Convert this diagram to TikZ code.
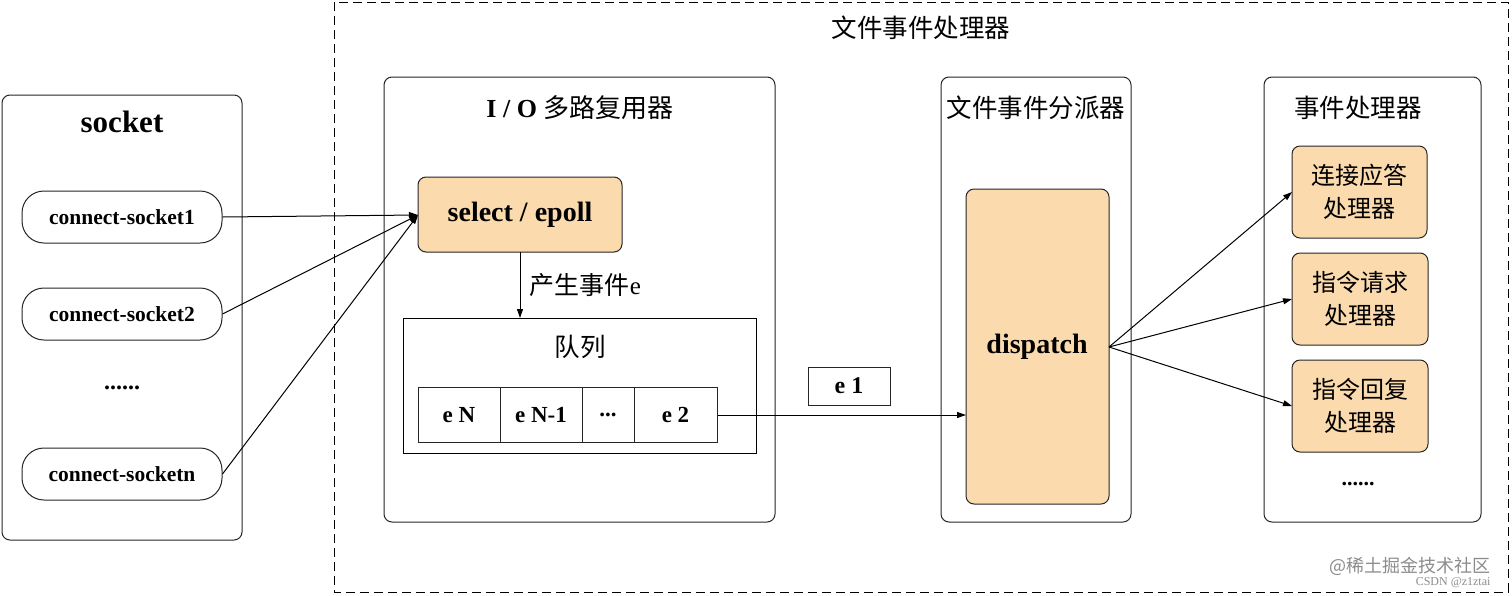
\documentclass[tikz,border=0pt]{standalone}
\usepackage{fontspec}
\setmainfont{Liberation Serif}
\newfontfamily\cjk{Noto Sans CJK SC}
\usetikzlibrary{arrows.meta}
\definecolor{org}{HTML}{FBDBAE}
\begin{document}
\begin{tikzpicture}[x=1pt,y=-1pt,
  box/.style={draw=black!85,line width=1pt,rounded corners=8pt},
  pill/.style={draw=black!85,line width=1pt,rounded corners=22pt,minimum width=200pt,minimum height=52pt,font=\fontsize{21.5}{24}\selectfont\bfseries},
  hot/.style={draw=black!85,line width=1pt,fill=org,rounded corners=8pt},
  cell/.style={draw=black!85,line width=1pt,minimum height=55pt,font=\fontsize{23}{24}\selectfont\bfseries},
  arr/.style={-{Triangle[length=9pt,width=6pt]},line width=1pt},
  ttl/.style={font=\cjk\fontsize{25.5}{28}\selectfont},
  hl/.style={font=\cjk\fontsize{24}{33}\selectfont,align=center}]
\useasboundingbox (0,0) rectangle (1512,595);
\fill[white] (0,0) rectangle (1512,595);
\draw[dashed,line width=1pt,dash pattern=on 9pt off 5pt] (334,2) rectangle (1508,592);
\node[ttl] (t0) at (921,28) {文件事件处理器};
% socket
\draw[box] (2,95) rectangle (242,540);
\node[font=\fontsize{31}{34}\selectfont\bfseries] (st) at (122,122) {socket};
\node[pill] (s1) at (122,217) {connect-socket1};
\node[pill] (s2) at (122,314) {connect-socket2};
\node[font=\fontsize{24}{24}\selectfont\bfseries] (sd) at (122,388) {......};
\node[pill] (sn) at (122,474) {connect-socketn};
% IO
\draw[box] (384,77) rectangle (775,522);
\node[font=\fontsize{26}{28}\selectfont\bfseries] (t1) at (580,108) {I / O {\cjk\mdseries 多路复用器}};
\draw[hot] (418,177) rectangle (622,252);
\node[font=\fontsize{28}{30}\selectfont\bfseries] (sel) at (520,215) {select / epoll};
\coordinate (selL) at (418,215);
\coordinate (selB) at (520,252);
\draw[line width=1pt] (403,318) rectangle (756,453);
\coordinate (qT) at (520,318);
\node[ttl] (q) at (580,347) {队列};
\node[cell,minimum width=82pt] (c1) at (459,415) {e N};
\node[cell,minimum width=82pt] (c2) at (541,415) {e N-1};
\node[cell,minimum width=52pt] (c3) at (608,415) {...};
\node[cell,minimum width=83pt] (c4) at (675.5,415) {e 2};
\draw[arr] (selB) -- node[right=6pt,font=\fontsize{25}{28}\selectfont] {{\cjk 产生事件}e} (qT);
\node[draw=black!85,line width=1pt,minimum width=82pt,minimum height=38pt,font=\fontsize{24}{24}\selectfont\bfseries] (e1) at (849,386) {e 1};
% dispatcher
\draw[box] (941,77) rectangle (1131,522);
\node[ttl] (t2) at (1036,108) {文件事件分派器};
\draw[hot] (966,189) rectangle (1109,504);
\node[font=\fontsize{28}{30}\selectfont\bfseries] (dp) at (1037,347) {dispatch};
\coordinate (dR) at (1109,347);
\coordinate (dL) at (966,415);
% handlers
\draw[box] (1264,77) rectangle (1481,522);
\node[ttl] (t3) at (1358,108) {事件处理器};
\draw[hot] (1292,146) rectangle (1427,238);
\node[hl] (h1) at (1359.5,192) {连接应答\\处理器};
\draw[hot] (1292,253) rectangle (1428,345);
\node[hl] (h2) at (1360,299) {指令请求\\处理器};
\draw[hot] (1292,360) rectangle (1428,452);
\node[hl] (h3) at (1360,406) {指令回复\\处理器};
\node[font=\fontsize{22}{22}\selectfont\bfseries] (hd) at (1358,484) {......};
\coordinate (h1L) at (1292,192);
\coordinate (h2L) at (1292,299);
\coordinate (h3L) at (1292,406);
% connectors
\draw[arr] (s1.east) -- (selL);
\draw[arr] (s2.east) -- (selL);
\draw[arr] (sn.east) -- (selL);
\draw[arr] (c4.east) -- (dL);
\draw[arr] (dR) -- (h1L);
\draw[arr] (dR) -- (h2L);
\draw[arr] (dR) -- (h3L);
% watermark
\node[font=\cjk\fontsize{18}{20}\selectfont,text=black!45,anchor=east] (w1) at (1494,566) {@稀土掘金技术社区};
\node[font=\fontsize{12}{13}\selectfont,text=black!45,anchor=east] (w2) at (1494,583) {CSDN @z1ztai};
\end{tikzpicture}
\end{document}
